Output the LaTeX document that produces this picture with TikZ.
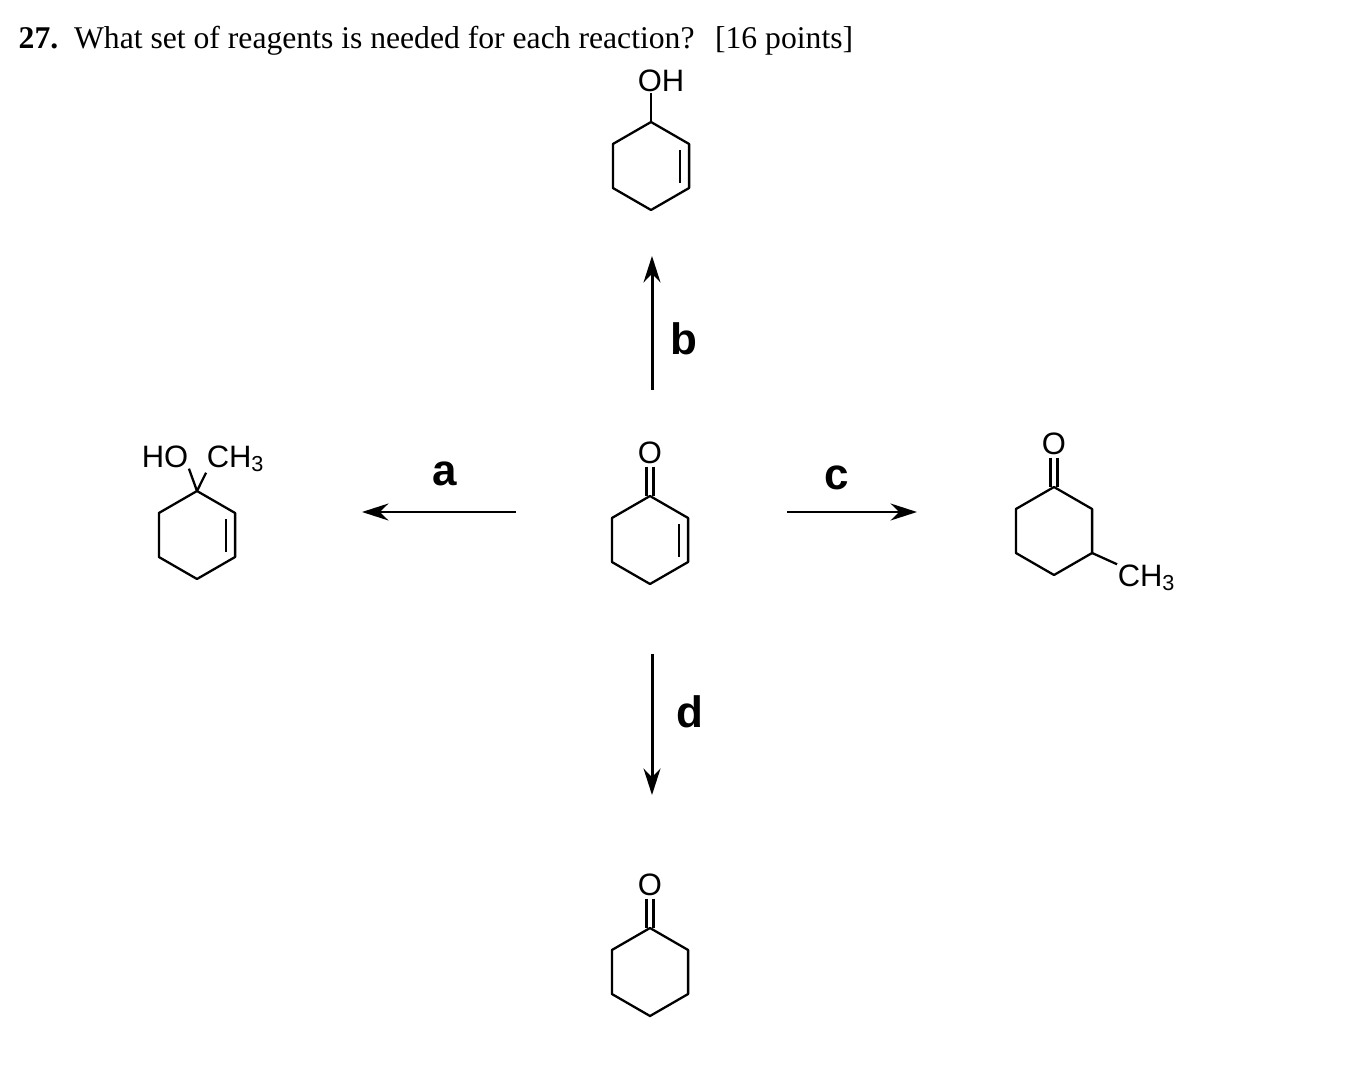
\documentclass[tikz,border=0pt]{standalone}
\usepackage{fontspec}
\setmainfont{Liberation Serif}
\newfontfamily\chemfont{Liberation Sans}
\usepackage{tikz}
\usetikzlibrary{arrows.meta,calc,positioning}
\tikzset{>={Stealth[length=7.5pt,width=4.8pt]}}
\newcommand{\ringat}[3]{%
  \foreach \i in {0,...,5} \coordinate (#1\i) at ($(#2,#3)+(60*\i-90:44)$);
  \draw[bond] (#10) -- (#11) -- (#12) -- (#13) -- (#14) -- (#15) -- cycle;}
\newcommand{\innerbond}[1]{\draw[bond] ($(#11)+(-9,6)$) -- ($(#12)+(-9,-5)$);}
\newcommand{\carbonyl}[2]{%
  \draw[bond] ($(#2.south)+(-3.5,2)$) -- ($(#10)+(-3.5,0)$);
  \draw[bond] ($(#2.south)+(3.5,2)$) -- ($(#10)+(3.5,0)$);}

\begin{document}
\begin{tikzpicture}[x=0.01cm,y=-0.01cm,
              bond/.style={line width=0.65pt, black, line join=round},
              rxn/.style={line width=0.85pt, black,->},
              atom/.style={inner sep=0pt, font=\chemfont\fontsize{8.8}{10}\selectfont},
              letter/.style={inner sep=0pt, font=\chemfont\bfseries\fontsize{12.5}{14}\selectfont},
             ]
\useasboundingbox[fill=white] (0,0) rectangle (1349,1067);
\node[anchor=west,inner sep=0pt,font=\fontsize{9}{11}\selectfont] (question) at (18,41)
  {\textbf{27.}\hspace{0.5em}What set of reagents is needed for each reaction?\hspace{0.65em}[16 points]};
% top
\ringat{top}{651}{166}
\innerbond{top}
\node[atom] (oh) at (661,81) {OH};
\draw[bond] (top0) -- (top0 |- oh.south);
% center
\ringat{mid}{650}{540}
\innerbond{mid}
\node[atom] (midO) at (650,453) {O};
\carbonyl{mid}{midO}
% left
\ringat{left}{197}{535}
\innerbond{left}
\node[atom] (ho) at (165,457) {HO};
\node[atom] (leftme) at (236,459) {CH\textsubscript{3}};
\draw[bond] (left0) -- (ho.south east);
\draw[bond] (left0) -- (leftme.south west);
% right
\ringat{right}{1054}{531}
\node[atom] (rightO) at (1054,444) {O};
\carbonyl{right}{rightO}
\node[atom] (rightme) at (1147,578) {CH\textsubscript{3}};
\draw[bond] (right2) -- (rightme.north west);
% bottom
\ringat{bot}{650}{972}
\node[atom] (botO) at (650,885) {O};
\carbonyl{bot}{botO}
% arrows
\coordinate (astart) at (516,512);
\coordinate (aend) at (362,512);
\coordinate (bstart) at (652,390);
\coordinate (bend) at (652,256);
\coordinate (cstart) at (787,512);
\coordinate (cend) at (917,512);
\coordinate (dstart) at (652,654);
\coordinate (dend) at (652,795);
\draw[rxn] (astart) -- (aend);
\draw[rxn] (bstart) -- (bend);
\draw[rxn] (cstart) -- (cend);
\draw[rxn] (dstart) -- (dend);
\node[letter] (la) at (445,474) {a};
\node[letter] (lb) at (684,339) {b};
\node[letter] (lc) at (837,478) {c};
\node[letter] (ld) at (690,712) {d};
\end{tikzpicture}
\end{document}
